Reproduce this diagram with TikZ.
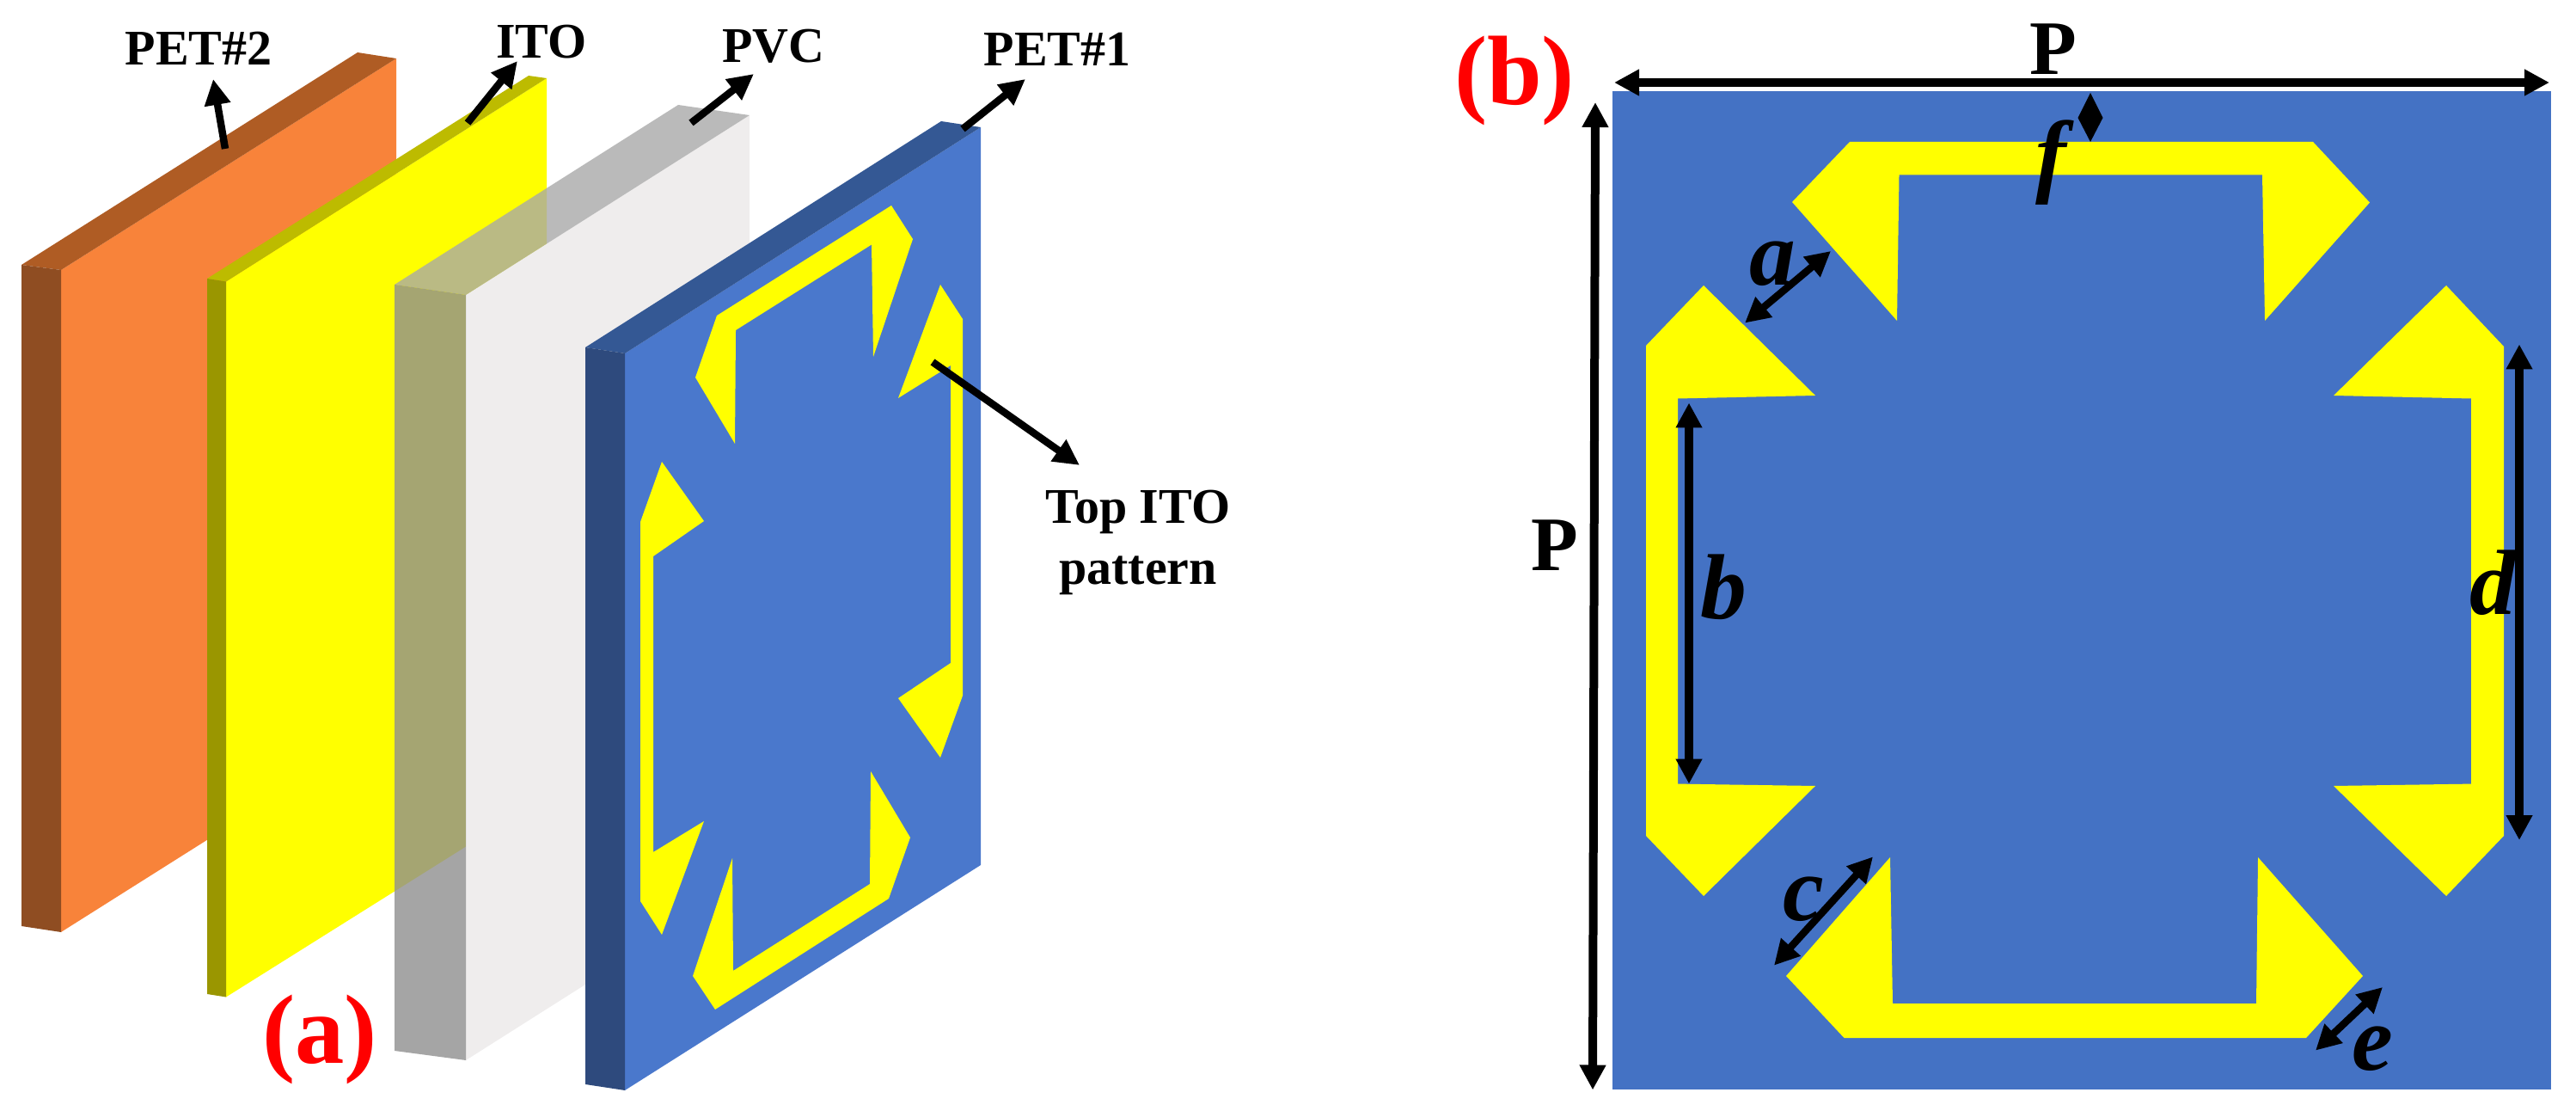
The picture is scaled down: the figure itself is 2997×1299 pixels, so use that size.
\documentclass[tikz,border=0pt]{standalone}
\usepackage{fontspec}
\setmainfont{Liberation Serif}
\usetikzlibrary{arrows.meta}
\definecolor{orangeface}{HTML}{F8833A}
\definecolor{orangetop}{HTML}{AF5C24}
\definecolor{orangeside}{HTML}{8F4D22}
\definecolor{itoface}{HTML}{FFFF00}
\definecolor{yellowtop}{HTML}{BDBB00}
\definecolor{yellowside}{HTML}{9A9600}
\definecolor{pvcface}{HTML}{EFEDED}
\definecolor{pvctop}{RGB}{168,168,168}
\definecolor{pvcside}{RGB}{143,143,143}
\definecolor{blueface}{HTML}{4A78CC}
\definecolor{bluetop}{HTML}{345894}
\definecolor{blueside}{HTML}{2E4A7D}
\definecolor{bluecell}{HTML}{4472C4}
\definecolor{labelred}{HTML}{FF0000}
\begin{document}
\begin{tikzpicture}
	[x=0.1mm,y=-0.1mm,
	every node/.style={inner sep=0pt,anchor=base,font=\bfseries},
	layerlabel/.style={font=\fontsize{16.5}{20}\selectfont\bfseries},
	redlabel/.style={text=labelred,font=\fontsize{32.6}{36}\selectfont\bfseries},
	periodlabel/.style={font=\fontsize{25.5}{28}\selectfont\bfseries},
	dimlabel/.style={font=\fontsize{30.6}{34}\selectfont\bfseries\itshape},
	pointer/.style={-{Triangle[length=3mm,width=2.9mm]},line width=0.85mm},
	period/.style={{Triangle[length=2.9mm,width=2.9mm]}-{Triangle[length=2.9mm,width=2.9mm]},line width=1mm},
	dimarrow/.style={{Triangle[length=2.9mm,width=2.9mm]}-{Triangle[length=2.9mm,width=2.9mm]},line width=0.95mm},
	smallarrow/.style={{Triangle[length=2.9mm,width=2.9mm]}-{Triangle[length=2.9mm,width=2.9mm]},line width=0.85mm}
	]
	\useasboundingbox (0,0) rectangle (2997,1299);

	\fill[orangeface] (71,314) -- (461,68) -- (461,838) -- (71,1084) -- cycle;
	\fill[orangetop] (25,308) -- (416,61) -- (461,68) -- (71,314) -- cycle;
	\fill[orangeside] (25,308) -- (71,314) -- (71,1084) -- (25,1077) -- cycle;

	\fill[itoface] (263,327.5) -- (636,91) -- (636,925.6) -- (263,1159.5) -- cycle;
	\fill[yellowtop] (241,324) -- (615,88) -- (636,91) -- (263,327.5) -- cycle;
	\fill[yellowside] (241,324) -- (263,327.5) -- (263,1159.5) -- (241,1156) -- cycle;

	\fill[pvcface] (542,343) -- (872,134) -- (872,1024) -- (542,1233) -- cycle;
	\fill[pvctop,opacity=0.79] (459,331) -- (789,122) -- (872,134) -- (542,343) -- cycle;
	\fill[pvcside,opacity=0.8] (459,331) -- (542,343) -- (542,1233) -- (459,1222) -- cycle;

	\fill[blueface] (727,411) -- (1141,148) -- (1141,1006) -- (727,1268) -- cycle;
	\fill[bluetop] (681,404) -- (1095,141) -- (1141,148) -- (727,411) -- cycle;
	\fill[blueside] (681,404) -- (727,411) -- (727,1268) -- (681,1261) -- cycle;

	\fill[itoface] (1037,239) -- (1062,278) -- (1016,415) -- (1014,284.5) -- (856,384) -- (855,516) -- (809,439) -- (834,367) -- cycle;
	\fill[itoface] (1094,331) -- (1120,371) -- (1120,809) -- (1094,881) -- (1045,812) -- (1106,771) -- (1106,425) -- (1045,463) -- cycle;
	\fill[itoface] (770,537) -- (819,606) -- (760,647) -- (760,991) -- (819,955) -- (770,1087) -- (745,1048) -- (745,607) -- cycle;
	\fill[itoface] (1013,897) -- (1059,974) -- (1034,1045) -- (832,1174) -- (806,1135) -- (852,998) -- (853,1129) -- (1012,1028) -- cycle;

	\fill[bluecell] (1876,106) rectangle (2968,1267);
	\fill[itoface] (2085,235) -- (2152,165) -- (2691,165) -- (2757,235.5) -- (2635,373) -- (2632,203.5) -- (2209.5,203.5) -- (2207,373) -- cycle;
	\fill[itoface] (1982,332) -- (1915,402) -- (1915,972) -- (1982,1042) -- (2112,914) -- (1952,911.6) -- (1952,463.5) -- (2112,460) -- cycle;
	\fill[itoface] (2846,332) -- (2913,403) -- (2913,972) -- (2846,1042) -- (2715,914) -- (2875,911.6) -- (2875,463.5) -- (2715,460) -- cycle;
	\fill[itoface] (2199,997) -- (2202,1167) -- (2625,1167) -- (2627,997) -- (2749,1135) -- (2683,1207) -- (2145.5,1207) -- (2078,1135) -- cycle;

	\coordinate (pettwotail) at (262,173);
	\coordinate (pettwohead) at (248,92);
	\coordinate (itotail) at (544,143);
	\coordinate (itohead) at (602,71);
	\coordinate (pvctail) at (804,143);
	\coordinate (pvchead) at (877,86);
	\coordinate (petonetail) at (1120,150);
	\coordinate (petonehead) at (1193,92);
	\coordinate (patterntail) at (1085,421);
	\coordinate (patternhead) at (1256,541);
	\draw[pointer] (pettwotail) -- (pettwohead);
	\draw[pointer] (itotail) -- (itohead);
	\draw[pointer] (pvctail) -- (pvchead);
	\draw[pointer] (petonetail) -- (petonehead);
	\draw[pointer] (patterntail) -- (patternhead);

	\coordinate (ptopleft) at (1878,96);
	\coordinate (ptopright) at (2966,96);
	\coordinate (pleftup) at (1856,119);
	\coordinate (pleftdown) at (1853,1267.5);
	\coordinate (bup) at (1965,468.5);
	\coordinate (bdown) at (1965,911.6);
	\coordinate (dup) at (2931,400.5);
	\coordinate (ddown) at (2931,977);
	\coordinate (fup) at (2432,108);
	\coordinate (fdown) at (2432,165);
	\coordinate (aleft) at (2030,375.6);
	\coordinate (aright) at (2130,292);
	\coordinate (cleft) at (2064,1122.7);
	\coordinate (cright) at (2179,996.4);
	\coordinate (eleft) at (2694,1221.6);
	\coordinate (eright) at (2772,1148);
	\draw[period] (ptopleft) -- (ptopright);
	\draw[period] (pleftup) -- (pleftdown);
	\draw[dimarrow] (bup) -- (bdown);
	\draw[dimarrow] (dup) -- (ddown);
	\fill (fup) -- (2446.5,137) -- (fdown) -- (2417.5,137) -- cycle;
	\draw[smallarrow] (aleft) -- (aright);
	\draw[smallarrow] (cleft) -- (cright);
	\draw[smallarrow] (eleft) -- (eright);

	\node[layerlabel] (pettwolabel) at (231,76) {PET\#2};
	\node[layerlabel] (itolabel) at (630,68) {ITO};
	\node[layerlabel] (pvclabel) at (900,73) {PVC};
	\node[layerlabel] (petonelabel) at (1230,77) {PET\#1};
	\node[layerlabel] (patternlabel) at (1324,609) {Top ITO};
	\node[layerlabel] (patternlabeltwo) at (1324,680) {pattern};
	\node[redlabel] (alabel) at (372,1236) {(a)};
	\node[redlabel] (blabel) at (1762,121.5) {(b)};
	\node[periodlabel] (ptoplabel) at (2389,87) {P};
	\node[periodlabel] (pleftlabel) at (1809,664) {P};
	\node[dimlabel] (adim) at (2062,332) {a};
	\node[dimlabel] (bdim) at (2005,720) {b};
	\node[dimlabel] (cdim) at (2098,1070) {c};
	\node[dimlabel] (ddim) at (2900,715) {d};
	\node[dimlabel] (edim) at (2760,1244) {e};
	\node[dimlabel] (fdim) at (2386,216) {f};
\end{tikzpicture}
\end{document}
